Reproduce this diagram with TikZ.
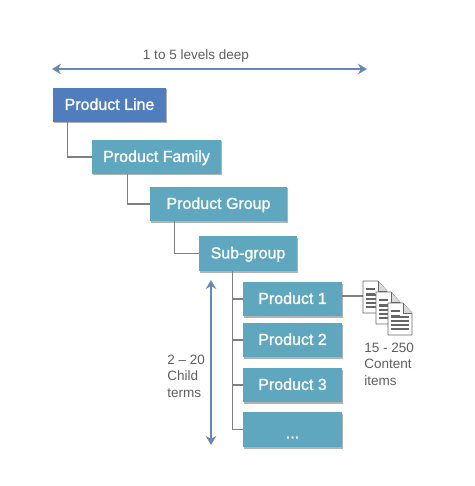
\documentclass[tikz,border=0pt]{standalone}
\usepackage{fontspec}
\setmainfont{Liberation Sans}
\newfontfamily\termfont[FakeBold=1.2]{Liberation Sans}
\usetikzlibrary{arrows.meta,shadows}
\definecolor{termteal}{HTML}{5FA6BF}
\definecolor{rootblue}{HTML}{4F7DBD}
\definecolor{spanblue}{HTML}{6688B8}
\definecolor{elbowgray}{HTML}{7F7F7F}
\definecolor{notegray}{HTML}{5E5E5E}
\tikzset{
  term/.style={fill=termteal, text=white, inner sep=0pt, text height=6.6pt, text depth=1pt,
    font=\termfont\fontsize{9.1}{11}\selectfont,
    drop shadow={shadow xshift=0.2mm, shadow yshift=-0.3mm, opacity=0.3, fill=black}},
  elbow/.style={draw=elbowgray, line width=0.85pt},
  span/.style={draw=spanblue, line width=1pt, {Stealth[length=1.8mm,width=2.1mm]}-{Stealth[length=1.8mm,width=2.1mm]}},
  note/.style={text=notegray, align=left, inner sep=0pt, font=\fontsize{7.7}{9.4}\selectfont},
  sheet/.pic={
    \draw[fill=white, draw=black!60, line width=0.35pt] (0,0) -- (15,0) -- (24,10) -- (24,32) -- (0,32) -- cycle;
    \draw[fill=black!15, draw=black!60, line width=0.35pt] (15,0) -- (15,10) -- (24,10);
    \foreach \y in {8,13} \draw[black!60, line width=0.7pt] (3,\y) -- (12,\y);
    \foreach \y in {14,18,22,26} \draw[black!60, line width=0.7pt] (3,\y) -- (21,\y);
  }
}
\begin{document}
\begin{tikzpicture}[x=0.2mm, y=-0.2mm]
  \useasboundingbox (0,0) rectangle (474,486);
  % hierarchy levels
  \node[term, fill=rootblue, minimum width=22.6mm, minimum height=6.8mm] (line) at (109.5,105) {Product Line};
  \node[term, minimum width=25.8mm, minimum height=6.8mm] (family) at (156.5,157) {Product Family};
  \node[term, minimum width=27.4mm, minimum height=6.8mm] (group) at (218.5,204) {Product Group};
  \node[term, minimum width=19.6mm, minimum height=7mm] (subgroup) at (248,253.5) {Sub-group};
  % products
  \node[term, minimum width=19.8mm, minimum height=6.8mm] (prodone) at (292.5,299) {Product 1};
  \node[term, minimum width=19.8mm, minimum height=6.8mm] (prodtwo) at (292.5,340) {Product 2};
  \node[term, minimum width=19.8mm, minimum height=6.8mm] (prodthree) at (292.5,385) {Product 3};
  \node[term, minimum width=19.8mm, minimum height=7mm] (prodmore) at (292.5,429.5) {\raisebox{-0.8mm}{...}};
  % connectors
  \draw[elbow] ([xshift=3mm]line.south west) |- (family.west);
  \draw[elbow] ([xshift=7.2mm]family.south west) |- (group.west);
  \draw[elbow] ([xshift=5mm]group.south west) |- (subgroup.west);
  \draw[elbow] ([xshift=6.8mm]subgroup.south west) |- (prodmore.west);
  \draw[elbow] ([xshift=6.8mm]subgroup.south west |- prodone.west) -- (prodone.west);
  \draw[elbow] ([xshift=6.8mm]subgroup.south west |- prodtwo.west) -- (prodtwo.west);
  \draw[elbow] ([xshift=6.8mm]subgroup.south west |- prodthree.west) -- (prodthree.west);
  % content items
  \coordinate (docsin) at (364,296);
  \draw[elbow] (prodone.east |- docsin) -- (docsin);
  \pic at (363,281) {sheet};
  \pic at (376,292) {sheet};
  \pic at (388,303) {sheet};
  % spans
  \coordinate (deepleft) at (52,69);
  \coordinate (deepright) at (367,69);
  \coordinate (childtop) at (211,280);
  \coordinate (childbottom) at (211,445);
  \draw[span] (deepleft) -- (deepright);
  \draw[span] (childtop) -- (childbottom);
  % labels
  \node[note] (deeplabel) at (196,56) {1 to 5 levels deep};
  \node[note, anchor=west] (childlabel) at (167,376) {2 -- 20\\Child\\terms};
  \node[note, anchor=west] (itemslabel) at (364,364) {15 - 250\\Content\\items};
\end{tikzpicture}
\end{document}
